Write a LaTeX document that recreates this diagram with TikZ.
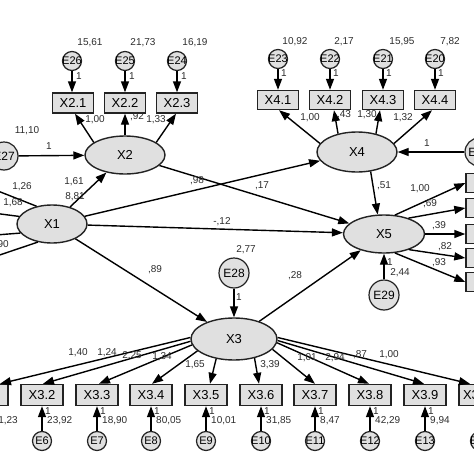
\documentclass[tikz,border=0pt]{standalone}
\usepackage{fontspec}
\setmainfont{Liberation Sans}
\usetikzlibrary{shapes.geometric,arrows.meta}
\definecolor{fillg}{RGB}{224,224,224}
\definecolor{lineg}{RGB}{35,35,35}
\definecolor{txtg}{RGB}{45,45,45}
\begin{document}
\begin{tikzpicture}[x=1pt,y=-1pt,
 lat/.style={ellipse,draw=lineg,line width=1.4pt,fill=fillg,inner sep=0pt,font=\fontsize{13}{15}\selectfont},
 obs/.style={rectangle,draw=lineg,line width=1.4pt,fill=fillg,inner sep=0pt,minimum width=41pt,minimum height=20pt,font=\fontsize{13}{15}\selectfont},
 err/.style={circle,draw=lineg,line width=1.2pt,fill=fillg,inner sep=0pt,minimum size=19pt,font=\fontsize{11}{13}\selectfont},
 errb/.style={err,minimum size=30pt,font=\fontsize{12}{14}\selectfont},
 lab/.style={inner sep=0pt,font=\fontsize{10}{12}\selectfont,text=txtg},
 arr/.style={line width=1.4pt,draw=black,-{Triangle[length=11pt,width=8pt]}},
]
\useasboundingbox (0,0) rectangle (474,474);
\fill[white] (0,0) rectangle (474,474);
\clip (0,0) rectangle (474,474);

% latent variables
\node[lat,minimum width=70pt,minimum height=38pt] (X1) at (52,224) {X1};
\node[lat,minimum width=80pt,minimum height=38pt] (X2) at (125,155) {X2};
\node[lat,minimum width=80pt,minimum height=40pt] (X4) at (357,152) {X4};
\node[lat,minimum width=81pt,minimum height=38pt] (X5) at (384,234) {X5};
\node[lat,minimum width=86pt,minimum height=42pt] (X3) at (234,339) {X3};

% X2 indicators
\node[obs] (X21) at (73,103) {X2.1};
\node[obs] (X22) at (125,103) {X2.2};
\node[obs] (X23) at (177,103) {X2.3};
\node[err] (E26) at (72,61) {\makebox[0pt]{E26}};
\node[err] (E25) at (125,61) {\makebox[0pt]{E25}};
\node[err] (E24) at (177,61) {\makebox[0pt]{E24}};
\draw[arr] (E26) -- (E26 |- X21.north);
\draw[arr] (E25) -- (X22);
\draw[arr] (E24) -- (X23);
\draw[arr] (X2.158) -- ([xshift=2pt]X21.south);
\draw[arr] (X2.90) -- (X22.south);
\draw[arr] (X2.22) -- ([xshift=-1pt]X23.south);

% X4 indicators
\node[obs,minimum height=19pt] (X41) at (278,100) {X4.1};
\node[obs,minimum height=19pt] (X42) at (330,100) {X4.2};
\node[obs,minimum height=19pt] (X43) at (383,100) {X4.3};
\node[obs,minimum height=19pt] (X44) at (435,100) {X4.4};
\node[err] (E23) at (278,59) {\makebox[0pt]{E23}};
\node[err] (E22) at (330,59) {\makebox[0pt]{E22}};
\node[err] (E21) at (383,59) {\makebox[0pt]{E21}};
\node[err] (E20) at (435,59) {\makebox[0pt]{E20}};
\draw[arr] (E23) -- (X41);
\draw[arr] (E22) -- (X42);
\draw[arr] (E21) -- (X43);
\draw[arr] (E20) -- (X44);
\draw[arr] (X4.167) -- ([xshift=1pt]X41.south);
\draw[arr] (X4.136) -- ([xshift=4pt]X42.south);
\draw[arr] (X4.44) -- ([xshift=-3pt]X43.south);
\draw[arr] (X4.13) -- ([xshift=-3pt]X44.south);

% X5 indicators (cut at the right edge, their texts lie outside the picture)
\foreach \i/\y in {1/183,2/208,3/234,4/258,5/282}
  \node[obs,minimum height=19pt,minimum width=42pt] (X5\i) at (487,\y) {};
\draw[arr] (X5.60) -- (X51.west);
\draw[arr] (X5.33) -- (X52.west);
\draw[arr] (X5.0) -- (X53.west);
\draw[arr] (X5.-32) -- (X54.west);
\draw[arr] (X5.-60) -- (X55.west);

% X3 indicators
\node[obs,minimum width=42pt,minimum height=21pt] (X31) at (-13,395) {};
\node[err] (E5) at (-13,441) {};
\draw[arr] (E5) -- (X31);
\foreach \i/\x/\e in {2/42/6,3/97/7,4/151/8,5/206/9,6/261/10,7/315/11,8/370/12,9/425/13,10/480/14}{
  \node[obs,minimum width=42pt,minimum height=21pt] (X3\i) at (\x,395) {X3.\i};
  \node[err] (E\e) at (\x,441) {\makebox[0pt]{E\e}};
  \draw[arr] (E\e) -- (X3\i);
}
\draw[arr] (X3.178) -- ([xshift=13pt]X31.north);
\draw[arr] (X3.183) -- ([xshift=1pt]X32.north);
\draw[arr] (X3.188) -- ([xshift=2pt]X33.north);
\draw[arr] (X3.198) -- ([xshift=1pt]X34.north);
\draw[arr] (X3.228) -- ([xshift=4pt]X35.north);
\draw[arr] (X3.317) -- ([xshift=-2pt]X36.north);
\draw[arr] (X3.345) -- (X37.north);
\draw[arr] (X3.355) -- ([xshift=-1pt]X38.north);
\draw[arr] (X3.358) -- ([xshift=-1pt]X39.north);
\draw[arr] (X3.2) -- ([xshift=-10pt]X310.north);

% X1 indicators (off the left edge)
\coordinate (x11) at (-30,180);
\coordinate (x12) at (-30,210);
\coordinate (x13) at (-30,237);
\coordinate (x14) at (-30,265);
\draw[arr] (X1.131) -- (x11);
\draw[arr] (X1.167) -- (x12);
\draw[arr] (X1.196) -- (x13);
\draw[arr] (X1.232) -- (x14);

% error terms of latents
\node[err,minimum size=28pt,font=\fontsize{12}{14}\selectfont] (E27) at (4,156) {\makebox[0pt]{E27}};
\node[err,minimum size=28pt,font=\fontsize{12}{14}\selectfont] (E19) at (479,152) {\makebox[0pt]{E19}};
\node[errb] (E28) at (234,273) {\makebox[0pt]{E28}};
\node[errb] (E29) at (384,295) {\makebox[0pt]{E29}};

% structural paths
\draw[arr] (E27) -- (X2);
\draw[arr] (E19) -- (X4);
\draw[arr] (X1) -- (X2);
\draw[arr] (X1) -- (X4);
\draw[arr] (X1) -- (X5);
\draw[arr] (X1) -- (X3);
\draw[arr] (X2) -- (X5);
\draw[arr] (X3) -- (X5);
\draw[arr] (X4.-55) -- (X5.108);
\draw[arr] (E28) -- (X3);
\draw[arr] (E29) -- (X5);

% labels
\foreach \p/\t [count=\k] in {
 {90,43}/{15,61},{143,43}/{21,73},{195,43}/{16,19},
 {79,76}/1,{132,76}/1,{184,76}/1,
 {95,120}/{1,00},{137,117}/{,92},{156,120}/{1,33},
 {295,42}/{10,92},{344,42}/{2,17},{402,42}/{15,95},{450,42}/{7,82},
 {284,73}/1,{336,73}/1,{389,73}/1,{441,73}/1,
 {310,118}/{1,00},{344,115}/{,43},{367,115}/{1,30},{403,118}/{1,32},
 {27,131}/{11,10},{49,146}/1,{427,143}/1,
 {22,187}/{1,26},{13,203}/{1,68},
 {74,182}/{1,61},{75,197}/{8,81},
 {197,181}/{,98},{262,186}/{,17},{222,222}/{-,12},{155,270}/{,89},{295,276}/{,28},{384,186}/{,51},
 {246,250}/{2,77},{239,297}/1,{390,262}/1,{400,273}/{2,44},
 {420,189}/{1,00},{430,204}/{,69},{439,226}/{,39},{445,247}/{,82},{439,263}/{,93},
 {78,353}/{1,40},{107,353}/{1,24},{132,356}/{2,25},{162,357}/{1,34},{195,365}/{1,65},
 {270,365}/{3,39},{307,358}/{1,01},{335,358}/{2,94},{360,355}/{,87},{389,355}/{1,00}}
  \node[lab] (L\k) at (\p) {\t};
\node[lab,anchor=east] (L90) at (9,245) {,90};
\node[lab,anchor=east] (B1v) at (18,421) {1,23};
\foreach \x/\v [count=\k] in {42/{23,92},97/{18,90},151/{80,05},206/{10,01},261/{31,85},315/{8,47},370/{42,29},425/{9,94}}{
  \node[lab] (B\k) at (\x+6,411) {1};
  \node[lab,anchor=west] (V\k) at (\x+5,421) {\v};
}
\end{tikzpicture}
\end{document}
